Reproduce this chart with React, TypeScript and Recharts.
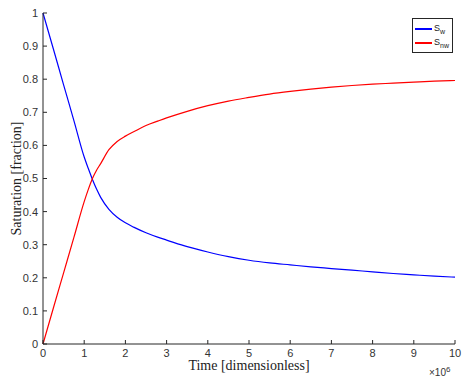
import React from 'react';
import { LineChart, Line, XAxis, YAxis, Legend, Label } from 'recharts';

// time in units of 10^6 (axis shows x10^6)
const time = [0, 0.25, 0.5, 0.75, 1, 1.1, 1.2, 1.3, 1.4, 1.6, 1.8, 2, 2.2, 2.5, 2.8, 3, 3.5, 4, 4.5, 5, 5.5, 6, 6.5, 7, 7.5, 8, 8.5, 9, 9.5, 10];
const sw = [1, 0.892, 0.783, 0.675, 0.565, 0.53, 0.497, 0.468, 0.443, 0.407, 0.383, 0.366, 0.353, 0.336, 0.322, 0.314, 0.294, 0.278, 0.264, 0.253, 0.245, 0.239, 0.233, 0.228, 0.223, 0.218, 0.213, 0.209, 0.205, 0.202];
const snw = [0, 0.108, 0.215, 0.322, 0.43, 0.467, 0.5, 0.525, 0.545, 0.587, 0.612, 0.628, 0.641, 0.66, 0.674, 0.683, 0.703, 0.72, 0.734, 0.745, 0.755, 0.763, 0.77, 0.776, 0.781, 0.785, 0.788, 0.791, 0.794, 0.796];

const xTicks = [0, 1, 2, 3, 4, 5, 6, 7, 8, 9, 10];
const yTicks = [0, 0.1, 0.2, 0.3, 0.4, 0.5, 0.6, 0.7, 0.8, 0.9, 1];
const seriesOrder = ['S_w', 'S_nw'];

const data = time.map((t, i) => ({ t, sw: sw[i], snw: snw[i] }));

const AXIS = '#262626';
const tickFont = { fontFamily: 'Liberation Sans, Arial, sans-serif', fontSize: 11, fill: '#333' };
const labelFont = { fontFamily: 'Liberation Serif, Times New Roman, serif', fontSize: 14, fill: '#222' };

const LegendBox = (props: any) => {
  const payload = [...(props.payload || [])].sort(
    (a: any, b: any) => seriesOrder.indexOf(a.value) - seriesOrder.indexOf(b.value)
  );
  return (
    <div style={{ border: `1px solid ${AXIS}`, background: '#fff', padding: '3px 3px 2px 2px', fontFamily: 'Liberation Sans, Arial, sans-serif', fontSize: 9, color: '#222' }}>
      {payload.map((p: any) => {
        const [base, sub] = String(p.value).split('_');
        return (
          <div key={p.value} style={{ display: 'flex', alignItems: 'center', height: 14 }}>
            <span style={{ display: 'inline-block', width: 17, height: 1.3, background: p.color, marginRight: 2 }} />
            <span>{base}<sub style={{ fontSize: 7 }}>{sub}</sub></span>
          </div>
        );
      })}
    </div>
  );
};

export default function App() {
  return (
    <div style={{ position: 'absolute', left: 0, top: 0, width: 474, height: 380, background: '#fff' }}>
      <LineChart width={474} height={380} data={data} margin={{ top: 13, right: 19, bottom: 0, left: 0 }}>
        <XAxis
          xAxisId="b"
          dataKey="t"
          type="number"
          domain={[0, 10]}
          ticks={xTicks}
          height={36}
          tickSize={-4}
          tickMargin={9}
          tick={tickFont}
          stroke={AXIS}
          interval={0}
        >
          <Label
            content={(p: any) => {
              const vb = p.viewBox;
              return (
                <text x={vb.x + vb.width / 2} y={370} textAnchor="middle" {...labelFont}>
                  Time [dimensionless]
                </text>
              );
            }}
          />
          <Label
            content={() => (
              <text x={429} y={376} {...tickFont} fontSize={10}>
                ×10<tspan dy={-4} fontSize={8}>6</tspan>
              </text>
            )}
          />
        </XAxis>
        <XAxis xAxisId="t" orientation="top" dataKey="t" type="number" domain={[0, 10]} ticks={xTicks} height={0} tickSize={-4} tick={false} stroke={AXIS} allowDataOverflow />
        <YAxis
          yAxisId="l"
          type="number"
          domain={[0, 1]}
          ticks={yTicks}
          width={43}
          tickSize={-4}
          tickMargin={9}
          tick={tickFont}
          stroke={AXIS}
          interval={0}
        >
          <Label
            content={(p: any) => {
              const vb = p.viewBox;
              const cy = vb.y + vb.height / 2;
              return (
                <text x={21} y={cy} textAnchor="middle" transform={`rotate(-90, 21, ${cy})`} {...labelFont}>
                  Saturation [fraction]
                </text>
              );
            }}
          />
        </YAxis>
        <YAxis yAxisId="r" orientation="right" type="number" domain={[0, 1]} ticks={yTicks} width={0} tickSize={-4} tick={false} stroke={AXIS} allowDataOverflow />
        <Legend
          layout="horizontal"
          verticalAlign="middle"
          align="center"
          content={LegendBox}
          wrapperStyle={{ top: 18, left: 412, width: 'auto', height: 'auto' }}
        />
        <Line xAxisId="b" yAxisId="l" type="monotone" dataKey="sw" name="S_w" stroke="#0000ff" strokeWidth={1.2} dot={false} isAnimationActive={false} />
        <Line xAxisId="b" yAxisId="l" type="monotone" dataKey="snw" name="S_nw" stroke="#ff0000" strokeWidth={1.2} dot={false} isAnimationActive={false} />
      </LineChart>
    </div>
  );
}
